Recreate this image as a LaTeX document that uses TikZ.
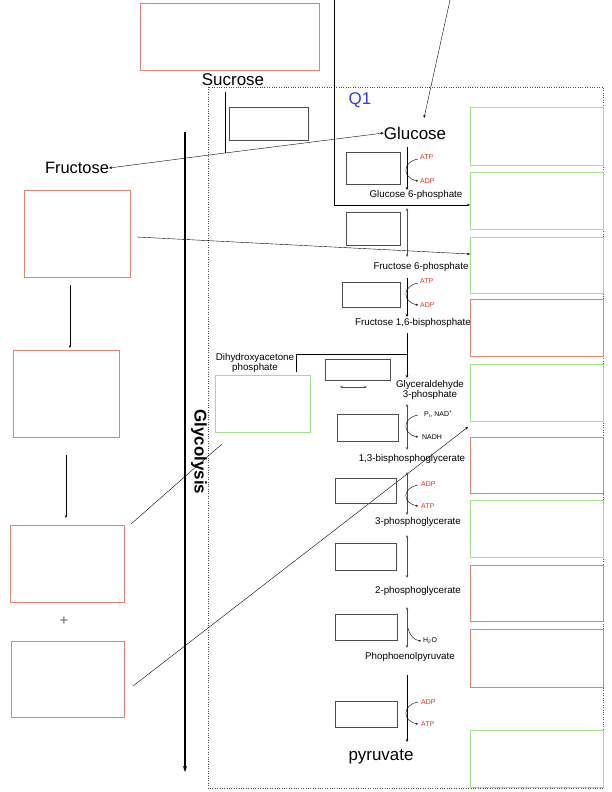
\documentclass[tikz,border=0pt]{standalone}
\usepackage{fontspec}
\setmainfont{Liberation Sans}
\usetikzlibrary{arrows.meta}
\definecolor{rb}{RGB}{226,130,115}
\definecolor{gb}{RGB}{160,225,130}
\definecolor{atp}{RGB}{225,50,30}
\begin{document}
\begin{tikzpicture}[x=1bp,y=-1bp,
 red/.style={draw=rb,line width=0.8pt},
 grn/.style={draw=gb,line width=0.8pt},
 gbox/.style={draw=black!70,line width=0.6pt},
 lab/.style={font=\fontsize{9.8}{10.5}\selectfont,align=center,inner sep=0pt},
 co/.style={text=atp,font=\fontsize{7}{7.5}\selectfont,inner sep=0pt},
 cb/.style={font=\fontsize{7}{7.5}\selectfont,inner sep=0pt},
 ar/.style={-{Stealth[length=3pt,width=2.5pt]},line width=0.4pt},
 rev/.style={{Stealth[length=3pt,width=2.5pt]}-{Stealth[length=3pt,width=2.5pt]},line width=0.9pt,black!70},
 cur/.style={-{Stealth[length=2pt,width=2pt]},line width=0.4pt}]
\useasboundingbox (0,0) rectangle (612,792);
\draw[dotted,black!70] (208,87) rectangle (603,788);
\draw[red] (140,3) rectangle (319,70);
\node[font=\fontsize{17}{18}\selectfont,inner sep=0pt] (suc) at (233,80) {Sucrose};
\node[text=blue!80,font=\fontsize{17}{18}\selectfont] (q1) at (360,100) {Q1};
\draw[gbox] (229,107) rectangle (308,140);
\node[font=\fontsize{17}{18}\selectfont,inner sep=0pt] (glc) at (415,133) {Glucose};
\node[font=\fontsize{16.5}{17}\selectfont,inner sep=0pt] (fru) at (77,168) {Fructose};
% right boxes
\draw[grn] (470,107) rectangle (603,165);
\draw[grn] (470,172) rectangle (603,229);
\draw[grn] (470,237) rectangle (603,293);
\draw[red] (470,299) rectangle (603,356);
\draw[grn] (470,364) rectangle (603,421);
\draw[red] (470,437) rectangle (603,493);
\draw[grn] (470,500) rectangle (603,557);
\draw[red] (470,565) rectangle (603,621);
\draw[red] (470,629) rectangle (603,687);
\draw[grn] (470,730) rectangle (603,787);
% left boxes
\draw[red] (24,190) rectangle (130,277);
\draw[red] (13,350) rectangle (119,437);
\draw[red] (10,525) rectangle (124,602);
\draw[red] (11,641) rectangle (124,717);
\node[text=black!60,font=\fontsize{15}{16}\selectfont] (plus) at (64,621) {+};
\draw[ar] (70,285) -- (70,348);
\draw[ar] (66,455) -- (66,518);
\draw[grn] (215,375) rectangle (310,432);
% sucrose split
\coordinate (j) at (225,153);
\draw[line width=0.5pt] (225,92) -- (j);
\draw[ar] (j) -- (glc.west);
\draw[ar] (j) -- (fru.east);
\draw[line width=0.5pt] (334,0) -- (334,205);
\draw[ar] (334,205) -- (470,205);
\draw[ar] (450,0) -- (424,118);
\draw[ar] (137,237) -- (470,254);
\draw[line width=0.4pt] (131,524) -- (222,444);
\draw[ar] (133,686) -- (468,427);
% glycolysis
\draw[-{Stealth[length=6pt,width=4pt]},line width=1.6pt] (185,132) -- (185,772);
\node[rotate=-90,font=\bfseries\fontsize{17}{18}\selectfont] (gly) at (199,452) {Glycolysis};
% center
\draw[gbox] (346,152) rectangle (400,184);
\draw[ar] (407,147) -- (407,190);
\draw[cur] (418,159) .. controls (402,162) and (402,178) .. (418,181);
\node[co,anchor=west] (a1) at (420,157) {ATP};
\node[co,anchor=west] (d1) at (420,181) {ADP};
\node[lab] (g6p) at (416,195) {Glucose 6-phosphate};
\draw[gbox] (346,212) rectangle (400,245);
\draw[rev] (407,208) -- (407,257);
\node[lab] (f6p) at (421,267) {Fructose 6-phosphate};
\draw[gbox] (342,282) rectangle (400,307);
\draw[ar] (407,278) -- (407,317);
\draw[cur] (418,283) .. controls (402,286) and (402,302) .. (418,305);
\node[co,anchor=west] (a2) at (420,281) {ATP};
\node[co,anchor=west] (d2) at (420,305) {ADP};
\node[lab] (fbp) at (413,323) {Fructose 1,6-bisphosphate};
\draw[line width=0.5pt] (407,333) -- (407,354) -- (296,354) -- (296,372);
\draw[ar] (407,354) -- (407,378);
\draw[gbox] (325,359) rectangle (390,380);
\draw[{Stealth[length=3pt,width=2.5pt]}-{Stealth[length=3pt,width=2.5pt]},line width=0.8pt,black!70] (340,387) -- (367,387);
\node[lab] (dhap) at (255,363) {Dihydroxyacetone\\phosphate};
\node[lab] (g3p) at (430,390) {Glyceraldehyde\\3-phosphate};
\draw[gbox] (337,414) rectangle (398,441);
\draw[rev] (407,404) -- (407,450);
\draw[cur] (418,415) .. controls (402,418) and (402,434) .. (418,437);
\node[cb,anchor=west] (pi) at (424,414) {P\textsubscript{i}, NAD\textsuperscript{+}};
\node[cb,anchor=west] (nadh) at (422,437) {NADH};
\node[lab] (bpg) at (412,459) {1,3-bisphosphoglycerate};
\draw[gbox] (335,478) rectangle (396,503);
\draw[rev] (407,472) -- (407,515);
\draw[cur] (418,485) .. controls (402,488) and (402,503) .. (418,506);
\node[co,anchor=west] (d3) at (421,484) {ADP};
\node[co,anchor=west] (a3) at (421,506) {ATP};
\node[lab] (pg3) at (418,522) {3-phosphoglycerate};
\draw[gbox] (335,543) rectangle (396,570);
\draw[rev] (407,535) -- (407,578);
\node[lab] (pg2) at (418,591) {2-phosphoglycerate};
\draw[gbox] (335,614) rectangle (397,640);
\draw[rev] (407,607) -- (407,648);
\draw[cur] (408,628) .. controls (410,636) and (414,640) .. (421,641);
\node[cb,anchor=west] (h2o) at (423,641) {H\textsubscript{2}O};
\node[lab] (pep) at (410,657) {Phophoenolpyruvate};
\draw[gbox] (335,701) rectangle (397,727);
\draw[ar] (407,675) -- (407,742);
\draw[cur] (418,702) .. controls (402,705) and (402,721) .. (418,724);
\node[co,anchor=west] (d4) at (421,702) {ADP};
\node[co,anchor=west] (a4) at (421,724) {ATP};
\node[font=\fontsize{17}{18}\selectfont,inner sep=0pt] (pyr) at (381,757) {pyruvate};
\end{tikzpicture}
\end{document}
